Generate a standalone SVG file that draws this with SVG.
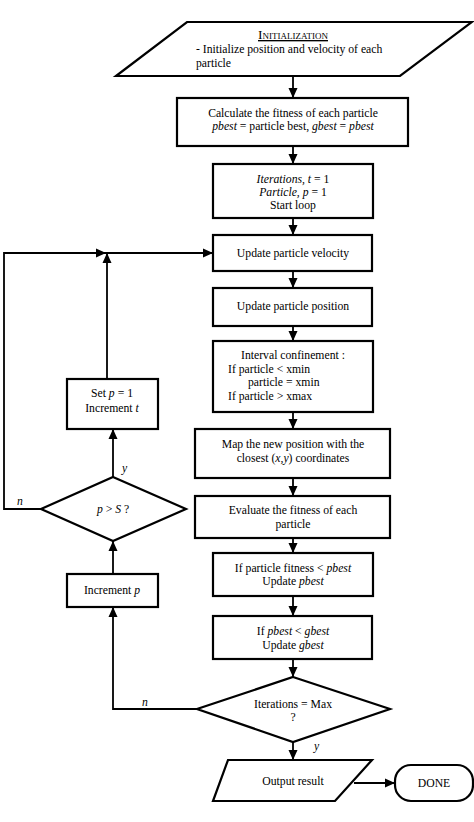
<svg xmlns="http://www.w3.org/2000/svg" width="474" height="822" viewBox="0 0 474 822">
<style>
.n{fill:#fff;stroke:#000;stroke-width:2.2}
.c{fill:none;stroke:#000;stroke-width:1.8}
text{font-family:"Liberation Serif","Times New Roman",serif;font-size:11.7px;fill:#000}
.m{text-anchor:middle}
.i{font-style:italic}
</style>
<defs>
<marker id="a" markerUnits="userSpaceOnUse" markerWidth="10" markerHeight="10" viewBox="0 0 10 10" refX="10" refY="5" orient="auto">
<path d="M0,0.5 L10,5 L0,9.5 z" fill="#000"/>
</marker>
</defs>
<rect width="474" height="822" fill="#fff"/>
<g id="connectors">
<line class="c" x1="293" y1="76" x2="293" y2="98" marker-end="url(#a)"/>
<line class="c" x1="293" y1="146" x2="293" y2="164" marker-end="url(#a)"/>
<line class="c" x1="293" y1="218" x2="293" y2="235" marker-end="url(#a)"/>
<line class="c" x1="293" y1="271" x2="293" y2="288" marker-end="url(#a)"/>
<line class="c" x1="293" y1="326" x2="293" y2="341" marker-end="url(#a)"/>
<line class="c" x1="293" y1="412" x2="293" y2="429" marker-end="url(#a)"/>
<line class="c" x1="293" y1="478" x2="293" y2="496" marker-end="url(#a)"/>
<line class="c" x1="293" y1="538" x2="293" y2="553" marker-end="url(#a)"/>
<line class="c" x1="293" y1="596" x2="293" y2="616" marker-end="url(#a)"/>
<line class="c" x1="293" y1="659" x2="293" y2="677" marker-end="url(#a)"/>
<line class="c" x1="293" y1="742" x2="293" y2="760" marker-end="url(#a)"/>
<line class="c" x1="354" y1="783" x2="395" y2="783" marker-end="url(#a)"/>
<polyline class="c" points="197,709 113,709 113,607" marker-end="url(#a)"/>
<line class="c" x1="113" y1="574" x2="113" y2="541" marker-end="url(#a)"/>
<line class="c" x1="113" y1="477" x2="113" y2="429" marker-end="url(#a)"/>
<line class="c" x1="107" y1="379" x2="107" y2="253" marker-end="url(#a)"/>
<polyline class="c" points="41,509 4,509 4,253 106,253" marker-end="url(#a)"/>
<line class="c" x1="104" y1="253" x2="213" y2="253" marker-end="url(#a)"/>
<text x="142" y="706" class="i">n</text>
<text x="17" y="505" class="i">n</text>
<text x="122" y="472" class="i">y</text>
<text x="314" y="750" class="i">y</text>
</g>
<g id="init">
<polygon class="n" points="187,22 472,22 400,76 116,76"/>
<text x="293" y="39" class="m" style="font-variant:small-caps;text-decoration:underline;font-size:13.5px">Initialization</text>
<text x="196" y="53">- Initialize position and velocity of each</text>
<text x="196" y="67">particle</text>
</g>
<g id="fitness">
<rect class="n" x="177" y="98" width="231" height="48"/>
<text x="293" y="117" class="m">Calculate the fitness of each particle</text>
<text x="293" y="130" class="m"><tspan class="i">pbest</tspan> = particle best, <tspan class="i">gbest</tspan> = <tspan class="i">pbest</tspan></text>
</g>
<g id="iter">
<rect class="n" x="213" y="164" width="160" height="54"/>
<text x="293" y="183" class="m"><tspan class="i">Iterations, t</tspan> = 1</text>
<text x="293" y="196" class="m"><tspan class="i">Particle, p</tspan> = 1</text>
<text x="293" y="209" class="m">Start loop</text>
</g>
<g id="velocity">
<rect class="n" x="213" y="235" width="159" height="36"/>
<text x="293" y="257" class="m">Update particle velocity</text>
</g>
<g id="position">
<rect class="n" x="213" y="288" width="159" height="38"/>
<text x="293" y="310" class="m">Update particle position</text>
</g>
<g id="interval">
<rect class="n" x="213" y="341" width="160" height="71"/>
<text x="293" y="359" class="m">Interval confinement :</text>
<text x="228" y="373">If particle &lt; xmin</text>
<text x="248" y="386">particle = xmin</text>
<text x="228" y="400">If particle &gt; xmax</text>
</g>
<g id="map">
<rect class="n" x="195" y="429" width="195" height="49"/>
<text x="293" y="448" class="m">Map the new position with the</text>
<text x="293" y="462" class="m">closest (<tspan class="i">x,y</tspan>) coordinates</text>
</g>
<g id="evaluate">
<rect class="n" x="195" y="496" width="195" height="42"/>
<text x="293" y="514" class="m">Evaluate the fitness of each</text>
<text x="293" y="528" class="m">particle</text>
</g>
<g id="pbest">
<rect class="n" x="213" y="553" width="160" height="43"/>
<text x="293" y="572" class="m">If particle fitness &lt; <tspan class="i">pbest</tspan></text>
<text x="293" y="585" class="m">Update <tspan class="i">pbest</tspan></text>
</g>
<g id="gbest">
<rect class="n" x="213" y="616" width="159" height="43"/>
<text x="293" y="635" class="m">If <tspan class="i">pbest</tspan> &lt; <tspan class="i">gbest</tspan></text>
<text x="293" y="649" class="m">Update <tspan class="i">gbest</tspan></text>
</g>
<g id="maxcheck">
<polygon class="n" points="293,677 390,709 293,742 197,709"/>
<text x="293" y="708" class="m">Iterations = Max</text>
<text x="293" y="721" class="m">?</text>
</g>
<g id="output">
<polygon class="n" points="228,760 372,760 335,801 213,801"/>
<text x="293" y="785" class="m">Output result</text>
</g>
<g id="done">
<rect class="n" x="395" y="765" width="78" height="36" rx="16" ry="16"/>
<text x="434" y="787" class="m">DONE</text>
</g>
<g id="pcheck">
<polygon class="n" points="113,477 186,509 113,541 41,509"/>
<text x="113" y="513" class="m"><tspan class="i">p</tspan> &gt; <tspan class="i">S</tspan> ?</text>
</g>
<g id="setp">
<rect class="n" x="67" y="379" width="91" height="50"/>
<text x="112" y="397" class="m">Set <tspan class="i">p</tspan> = 1</text>
<text x="112" y="412" class="m">Increment <tspan class="i">t</tspan></text>
</g>
<g id="incp">
<rect class="n" x="67" y="574" width="91" height="33"/>
<text x="112" y="594" class="m">Increment <tspan class="i">p</tspan></text>
</g>
</svg>
